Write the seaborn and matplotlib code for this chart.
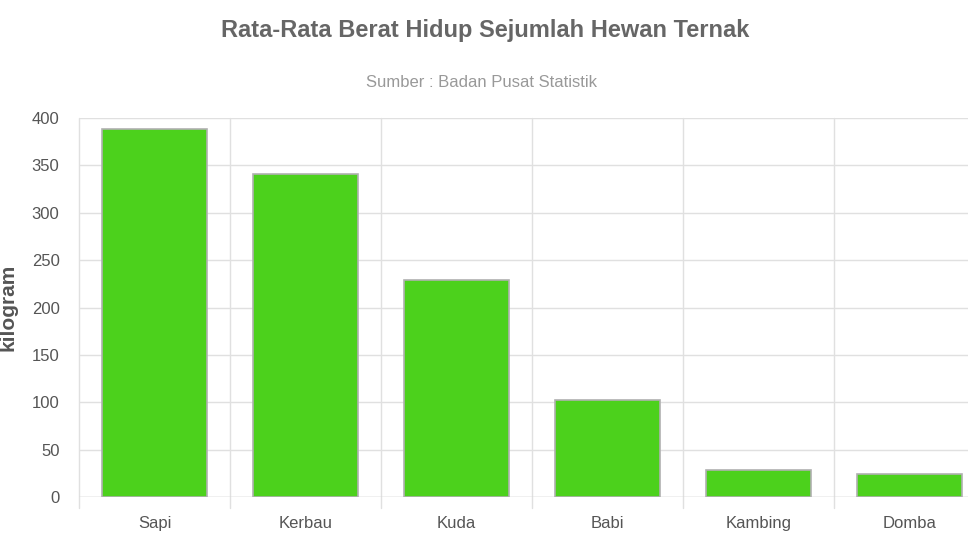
import matplotlib
matplotlib.use("Agg")
import matplotlib.pyplot as plt
import seaborn as sns
import pandas as pd
import numpy as np

categories = ["Sapi", "Kerbau", "Kuda", "Babi", "Kambing", "Domba"]
values = [388, 341, 229, 102, 29, 24]
yticks = [0, 50, 100, 150, 200, 250, 300, 350, 400]

sns.set_style("white")
plt.rcParams['font.family'] = ['Liberation Sans', 'DejaVu Sans']

W, H = 968, 543
fig = plt.figure(figsize=(W/100, H/100), dpi=100)
ax = fig.add_axes([79/W, (H-497)/H, 906/W, 379/H])
df = pd.DataFrame({"cat": categories, "val": values})
sns.barplot(data=df, x="cat", y="val", ax=ax, color="#4cd11c", saturation=1,
            width=0.7, edgecolor="#b0b0b0", linewidth=1.2, zorder=3)
ax.set_ylim(0, 400)
ax.set_xlim(-0.5, 5.5)
ax.set_yticks(yticks)
ax.set_yticklabels([str(t) for t in yticks], fontsize=12, color="#555555")
ax.tick_params(axis='y', length=0, pad=14)
ax.tick_params(axis='x', length=0, pad=14, labelsize=12, labelcolor="#555555")
for t in yticks:
    ax.axhline(t, color="#e0e0e0", lw=1, zorder=0)
for b in np.arange(-0.5, 6, 1):
    ax.plot([b, b], [-12, 400], color="#e0e0e0", lw=1, clip_on=False, zorder=0,
            transform=ax.transData)
ax.set_xlabel("")
ax.set_ylabel("kilogram", fontsize=15, fontweight="bold", color="#555555", labelpad=10)
for s in ax.spines.values():
    s.set_visible(False)
ax.axhline(0, color="#d0d0d0", lw=1, zorder=1)
fig.text(485/W, 1-30/H, "Rata-Rata Berat Hidup Sejumlah Hewan Ternak", ha="center",
         va="center", fontsize=17, fontweight="bold", color="#666666")
fig.text(482/W, 1-82/H, "Sumber : Badan Pusat Statistik", ha="center",
         va="center", fontsize=12, color="#999999")
fig.savefig("out.png", dpi=100)
